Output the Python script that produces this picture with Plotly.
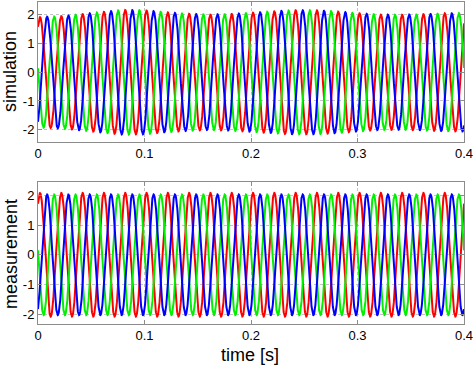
import numpy as np
import plotly.graph_objects as go

# ---- data ----
freq_hz = 50.0                 # fundamental frequency of the three phases
red_peak_time = 0.0019         # time of first red peak [s]
t_start, t_end = 0.0, 0.4

# simulation amplitude envelope (read from peak heights)
sim_env_t = [0.00, 0.02, 0.04, 0.06, 0.08, 0.10, 0.12, 0.14, 0.16, 0.18, 0.20,
             0.22, 0.24, 0.26, 0.28, 0.30, 0.32, 0.34, 0.36, 0.38, 0.40]
sim_env_a = [1.92, 1.95, 2.02, 2.10, 2.17, 2.16, 2.09, 2.04, 2.01, 2.03, 2.07,
             2.12, 2.16, 2.16, 2.12, 2.06, 2.01, 2.00, 2.02, 2.05, 2.06]

# measurement amplitudes per phase
meas_amp_red = 2.08
meas_amp_green = 2.03
meas_amp_blue = 2.03

x_tick_vals = [0, 0.1, 0.2, 0.3, 0.4]
x_tick_text = ["0", "0.1", "0.2", "0.3", "0.4"]
y_tick_vals = [-2, -1, 0, 1, 2]
y_tick_text = ["-2", "-1", "0", "1", "2"]

panel_titles = ["simulation", "measurement"]
x_title = "time [s]"
colors = {"red": "#ff0000", "green": "#00f000", "blue": "#0000ff"}

# ---- build signals ----
t = np.linspace(t_start, t_end, 4001)
w = 2 * np.pi * freq_hz
theta = w * (t - red_peak_time)
sim_a = np.interp(t, sim_env_t, sim_env_a)

sim = {
    "red": sim_a * np.cos(theta),
    "green": sim_a * np.cos(theta + 2 * np.pi / 3),
    "blue": sim_a * np.cos(theta - 2 * np.pi / 3),
}
meas = {
    "red": meas_amp_red * np.cos(theta),
    "green": meas_amp_green * np.cos(theta + 2 * np.pi / 3),
    "blue": meas_amp_blue * np.cos(theta - 2 * np.pi / 3),
}

fig = go.Figure()
for name in ["red", "green", "blue"]:
    fig.add_trace(go.Scatter(x=t, y=sim[name], mode="lines",
                             line=dict(color=colors[name], width=2),
                             xaxis="x", yaxis="y", showlegend=False))
for name in ["red", "green", "blue"]:
    fig.add_trace(go.Scatter(x=t, y=meas[name], mode="lines",
                             line=dict(color=colors[name], width=2),
                             xaxis="x2", yaxis="y2", showlegend=False))

H = 367.0
W = 426.0
font_family = "Liberation Sans, Arial, sans-serif"
axis_common = dict(
    showline=True, mirror="ticks", linecolor="#8c8c8c", linewidth=1,
    ticks="inside", ticklen=4, tickcolor="#8c8c8c",
    showgrid=True, gridcolor="#c4c4c4", griddash="dot", gridwidth=1,
    zeroline=False, automargin=False,
    tickfont=dict(family=font_family, size=13, color="black"),
)

fig.update_layout(
    width=474, height=367,
    margin=dict(l=38, r=10, t=0, b=0, autoexpand=False),
    paper_bgcolor="white", plot_bgcolor="white",
    xaxis=dict(domain=[0, 1], range=[0, 0.4], tickvals=x_tick_vals,
               ticktext=x_tick_text, anchor="y", **axis_common),
    yaxis=dict(domain=[1 - 141.7 / H, 1 - 1.7 / H], range=[-2.42, 2.46],
               tickvals=y_tick_vals, ticktext=y_tick_text, anchor="x",
               **axis_common),
    xaxis2=dict(domain=[0, 1], range=[0, 0.4], tickvals=x_tick_vals,
                ticktext=x_tick_text, anchor="y2", **axis_common),
    yaxis2=dict(domain=[1 - 323.7 / H, 1 - 182 / H], range=[-2.32, 2.45],
                tickvals=y_tick_vals, ticktext=y_tick_text, anchor="x2",
                **axis_common),
    annotations=[
        dict(text=panel_titles[0], xref="paper", yref="paper",
             x=(10 - 38) / W, y=1 - 72 / H, textangle=-90,
             showarrow=False, xanchor="center", yanchor="middle",
             font=dict(family=font_family, size=18, color="black")),
        dict(text=panel_titles[1], xref="paper", yref="paper",
             x=(11 - 38) / W, y=1 - 254 / H, textangle=-90,
             showarrow=False, xanchor="center", yanchor="middle",
             font=dict(family=font_family, size=18, color="black")),
        dict(text=x_title, xref="paper", yref="paper",
             x=(250 - 38) / W, y=1 - 355 / H, showarrow=False,
             xanchor="center", yanchor="middle",
             font=dict(family=font_family, size=18, color="black")),
    ],
)

fig.write_html("out.html",
               config={"displayModeBar": False},
               post_script="document.body.style.margin='0';"
                           "document.body.style.overflow='hidden';")
